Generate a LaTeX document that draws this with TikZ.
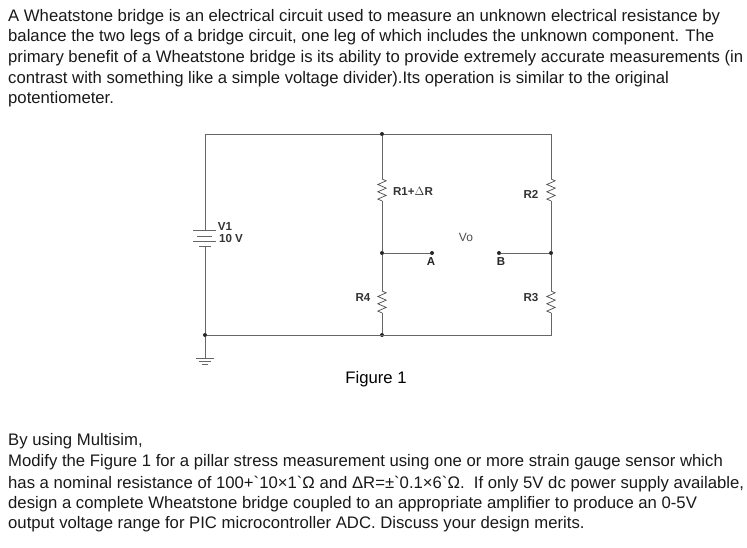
\documentclass[tikz,border=0pt]{standalone}
\usepackage{fontspec}
\setmainfont{Liberation Sans}
\usetikzlibrary{decorations.pathmorphing}
\tikzset{
wire/.style={draw=black!60,line width=1pt},
res/.style={draw=black!70,line width=0.7pt,decorate,decoration={zigzag,amplitude=4.2pt,segment length=7.3pt}},
dot/.style={circle,fill=black!85,inner sep=0pt,minimum size=4pt},
txt/.style={anchor=base west,inner sep=0pt,font=\fontsize{16.7}{20}\selectfont,text=black!90},
lab/.style={inner sep=0pt,font=\fontsize{11.6}{14}\selectfont\bfseries,text=black!80},
pin/.style={inner sep=0pt,font=\fontsize{11.5}{13}\selectfont\bfseries,text=black!85}
}
\begin{document}
\begin{tikzpicture}[x=1pt,y=-1pt]
\useasboundingbox (0,0) rectangle (747,547);
% text above
\node[txt] (t1) at (8,21) {A Wheatstone bridge is an electrical circuit used to measure an unknown electrical resistance by};
\node[txt] (t2) at (8,41) {balance the two legs of a bridge circuit, one leg of which includes the unknown component. The};
\node[txt] (t3) at (8,62) {primary benefit of a Wheatstone bridge is its ability to provide extremely accurate measurements (in};
\node[txt] (t4) at (8,83) {contrast with something like a simple voltage divider).Its operation is similar to the original};
\node[txt] (t5) at (8,103) {potentiometer.};
% corners and junctions
\coordinate (tl) at (205,134);
\node[dot] (top) at (382,134) {};
\coordinate (tr) at (551,134);
\node[dot] (mid) at (382,253) {};
\node[dot] (right) at (551,253) {};
\node[dot] (botl) at (205,335) {};
\node[dot] (bot) at (382,335) {};
\coordinate (br) at (551,335);
\node[dot] (A) at (432,253) {};
\node[dot] (B) at (499,253) {};
% resistor ends
\coordinate (r1a) at (382,179);
\coordinate (r1b) at (382,201);
\coordinate (r4a) at (382,291);
\coordinate (r4b) at (382,313);
\coordinate (r2a) at (551,179);
\coordinate (r2b) at (551,201);
\coordinate (r3a) at (551,291);
\coordinate (r3b) at (551,313);
% battery
\coordinate (b1) at (205,230);
\coordinate (b4) at (205,246);
\coordinate (b1l) at (193,230);
\coordinate (b1r) at (216,230);
\coordinate (b2l) at (197,236);
\coordinate (b2r) at (212,236);
\coordinate (b3l) at (193,241);
\coordinate (b3r) at (216,241);
\coordinate (b4l) at (199,246);
\coordinate (b4r) at (211,246);
% ground
\coordinate (g1) at (205,358);
\coordinate (g1l) at (196,358);
\coordinate (g1r) at (214,358);
\coordinate (g2l) at (199,361);
\coordinate (g2r) at (211,361);
\coordinate (g3l) at (202,364);
\coordinate (g3r) at (208,364);
% wires
\draw[wire] (b1) -- (tl) -- (top) -- (tr) -- (r2a);
\draw[wire] (top) -- (r1a);
\draw[wire] (r1b) -- (mid) -- (r4a);
\draw[wire] (r4b) -- (bot);
\draw[wire] (r2b) -- (right) -- (r3a);
\draw[wire] (r3b) -- (br) -- (botl) -- (b4);
\draw[wire] (botl) -- (g1);
\draw[wire] (mid) -- (A);
\draw[wire] (B) -- (right);
\draw[res] (r1a) -- (r1b);
\draw[res] (r4a) -- (r4b);
\draw[res] (r2a) -- (r2b);
\draw[res] (r3a) -- (r3b);
\draw[wire] (b1l) -- (b1r);
\draw[wire] (b2l) -- (b2r);
\draw[wire] (b3l) -- (b3r);
\draw[wire] (b4l) -- (b4r);
\draw[wire] (g1l) -- (g1r);
\draw[wire] (g2l) -- (g2r);
\draw[wire] (g3l) -- (g3r);
% labels
\node[lab] (v1) at (225,227) {V1};
\node[lab] (v10) at (231,239) {10 V};
\node[lab] (r1) at (413,191) {R1+$\Delta$R};
\node[lab] (r2) at (531,194) {R2};
\node[lab] (r3) at (531,298) {R3};
\node[lab] (r4) at (363,298) {R4};
\node[pin] (al) at (431,261.5) {A};
\node[pin] (bl) at (501,261.5) {B};
\node[inner sep=0pt,font=\fontsize{12}{14}\selectfont,text=black!70] (vo) at (466,237) {Vo};
\node[inner sep=0pt,font=\fontsize{16.7}{20}\selectfont] (fig) at (376,379) {Figure 1};
% text below
\node[txt] (b1t) at (8,445) {By using Multisim,};
\node[txt] (b2t) at (8,466) {Modify the Figure 1 for a pillar stress measurement using one or more strain gauge sensor which};
\node[txt] (b3t) at (8,488) {has a nominal resistance of 100+\textasciigrave 10×1\textasciigrave Ω and ΔR=±\textasciigrave 0.1×6\textasciigrave Ω.\ \ If only 5V dc power supply available,};
\node[txt] (b4t) at (8,508) {design a complete Wheatstone bridge coupled to an appropriate amplifier to produce an 0-5V};
\node[txt] (b5t) at (8,528) {output voltage range for PIC microcontroller ADC. Discuss your design merits.};
\end{tikzpicture}
\end{document}
